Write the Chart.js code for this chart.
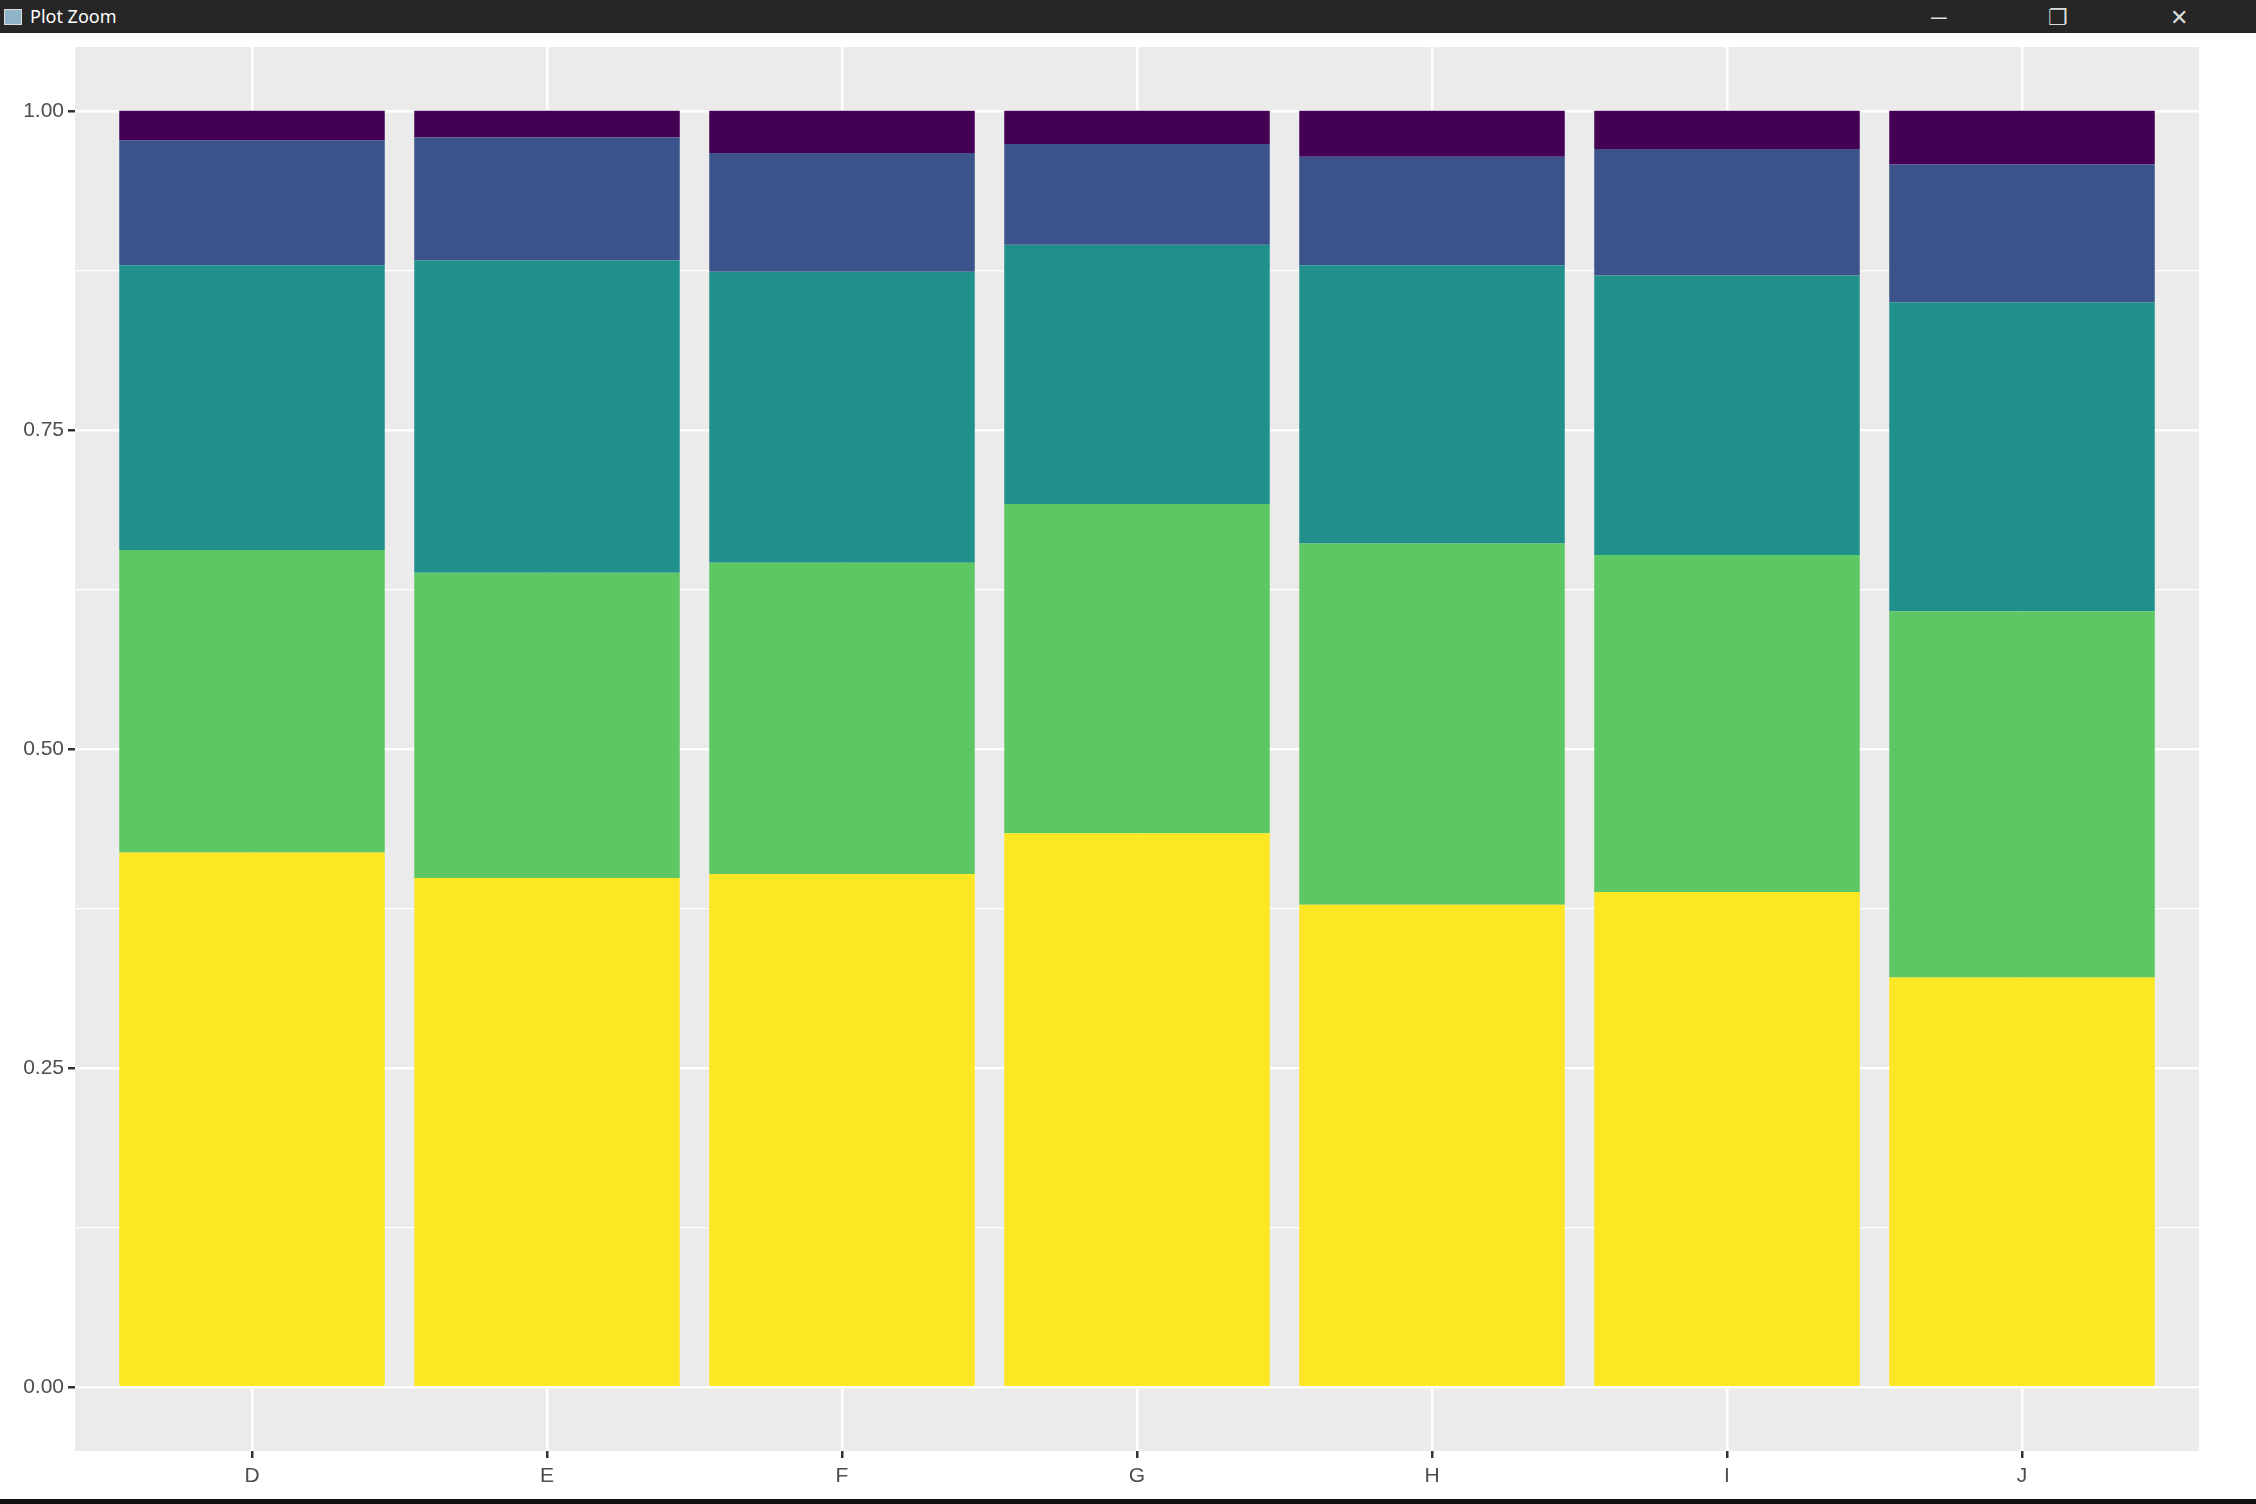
<!DOCTYPE html>
<html><head><meta charset="utf-8">
<script src="https://cdn.jsdelivr.net/npm/chart.js@4/dist/chart.umd.min.js"></script>
<style>
html,body{margin:0;padding:0;background:#fff;width:2256px;height:1504px;overflow:hidden;font-family:"Segoe UI","Noto Sans",sans-serif}
#bar{position:absolute;left:0;top:0;width:2256px;height:33px;background:#262626;color:#fff;font-size:18px;line-height:33px}
#bar span{margin-left:30px}
#icon{position:absolute;left:4px;top:9px;width:16px;height:14px;background:#8fb4c8;border:1px solid #ddd}
#ctrl{position:absolute;right:20px;top:0;color:#ddd;font-size:22px;letter-spacing:48px}
#bot{position:absolute;left:0;top:1499px;width:2256px;height:5px;background:#111}
#wrap{position:absolute;left:0;top:0;width:2256px;height:1504px}
</style></head><body>
<div id="wrap"><canvas id="c" width="2256" height="1504"></canvas></div>
<div id="bar"><div id="icon"></div><span>Plot Zoom</span><div id="ctrl">─ ❐ ✕</div></div>
<div id="bot"></div>
<script>
const categories=['D','E','F','G','H','I','J'];
const seriesNames=['s1','s2','s3','s4','s5'];
const yellowVals=[0.419,0.399,0.402,0.434,0.378,0.388,0.321];
const greenVals=[0.237,0.239,0.244,0.258,0.283,0.264,0.287];
const tealVals=[0.223,0.245,0.228,0.203,0.218,0.219,0.242];
const blueVals=[0.098,0.096,0.093,0.079,0.085,0.099,0.108];
const purpleVals=[0.023,0.021,0.033,0.026,0.036,0.030,0.042];
const yTicks=[0,0.25,0.5,0.75,1];
const colors=['#FDE725','#5DC863','#21908C','#3B528B','#440154'];
const all=[yellowVals,greenVals,tealVals,blueVals,purpleVals];
const datasets=all.map((v,i)=>({label:seriesNames[i],data:v.map((y,j)=>({x:j+1,y})),backgroundColor:colors[i],borderWidth:0,categoryPercentage:1,barPercentage:0.9}));
const bg={id:'bg',beforeDraw(c){const a=c.chartArea,x=c.ctx;x.save();x.fillStyle='#EBEBEB';x.fillRect(a.left,a.top,a.right-a.left,a.bottom-a.top);x.restore();}};
new Chart(document.getElementById('c'),{type:'bar',data:{datasets},plugins:[bg],
options:{responsive:false,animation:false,layout:{padding:{left:0,top:47,right:57,bottom:0}},
plugins:{legend:{display:false},tooltip:{enabled:false}},
scales:{
x:{type:'linear',stacked:true,offset:false,min:0.4,max:7.6,border:{display:false},
afterBuildTicks(s){s.ticks=categories.map((c,i)=>({value:i+1}));},
afterFit(s){s.height=53;},
grid:{offset:false,color:'#fff',lineWidth:2.5,tickColor:'#333',tickLength:7},
ticks:{color:'#4D4D4D',font:{size:21,family:'Liberation Sans'},padding:6,callback:(v)=>categories[Math.round(v)-1]}},
y:{stacked:true,min:-0.05,max:1.05,border:{display:false},
afterBuildTicks(s){const t=[];for(let v=0;v<=1.0001;v+=0.125)t.push({value:v});s.ticks=t;},
afterFit(s){s.width=75;},
grid:{color:'#fff',lineWidth:(c)=>(Math.abs(c.tick.value*4-Math.round(c.tick.value*4))<1e-6?2.5:1.2),
tickColor:(c)=>(Math.abs(c.tick.value*4-Math.round(c.tick.value*4))<1e-6?'#333':'rgba(0,0,0,0)'),tickLength:7},
ticks:{color:'#4D4D4D',font:{size:21,family:'Liberation Sans'},padding:4,
callback:(v)=>{const q=v*4;return Math.abs(q-Math.round(q))<1e-6?v.toFixed(2):'';}}}
}}});
</script></body></html>
